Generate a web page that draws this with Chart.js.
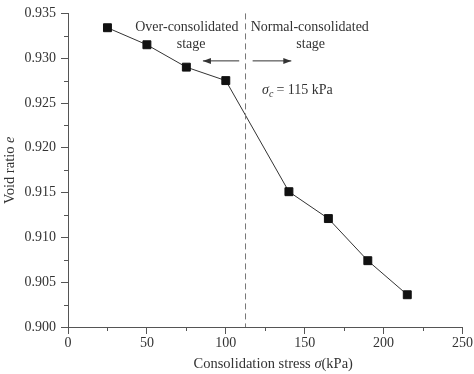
<!DOCTYPE html>
<html lang="en">
<head>
<meta charset="UTF-8">
<title>Void ratio vs consolidation stress</title>
<script src="https://cdn.jsdelivr.net/npm/chart.js"></script>
<style>
  html, body { margin: 0; padding: 0; background: #fff; }
  #wrap { width: 474px; height: 374px; position: relative; }
</style>
</head>
<body>
<div id="wrap"><canvas id="chart"></canvas></div>
<script>
// data
const stress = [25, 50, 75, 100, 140, 165, 190, 215];
const voidRatio = [0.9334, 0.9315, 0.9290, 0.9275, 0.9151, 0.9121, 0.9074, 0.9036];
const xTicks = [0, 50, 100, 150, 200, 250];
const yTicks = [0.900, 0.905, 0.910, 0.915, 0.920, 0.925, 0.930, 0.935];
const divideAt = 112.5;   // dashed line position
const sigmaC = 115;

const FONT = "'Liberation Serif', 'DejaVu Serif', serif";
const INK = '#333';
const AXIS = '#555';

// minor ticks, annotations, axis titles
const extras = {
  id: 'extras',
  afterDraw(chart) {
    const { ctx, chartArea: a, scales: { x, y } } = chart;
    ctx.save();
    // minor ticks
    ctx.strokeStyle = AXIS;
    ctx.lineWidth = 1;
    for (let i = 0; i < xTicks.length - 1; i++) {
      const px = Math.round(x.getPixelForValue((xTicks[i] + xTicks[i + 1]) / 2)) + 0.5;
      ctx.beginPath(); ctx.moveTo(px, a.bottom); ctx.lineTo(px, a.bottom + 4); ctx.stroke();
    }
    for (let i = 0; i < yTicks.length - 1; i++) {
      const py = Math.round(y.getPixelForValue((yTicks[i] + yTicks[i + 1]) / 2)) + 0.5;
      ctx.beginPath(); ctx.moveTo(a.left, py); ctx.lineTo(a.left - 4, py); ctx.stroke();
    }

    // dashed divider
    const dx = x.getPixelForValue(divideAt);
    ctx.strokeStyle = '#777';
    ctx.setLineDash([6, 4]);
    ctx.beginPath(); ctx.moveTo(dx, a.top); ctx.lineTo(dx, a.bottom); ctx.stroke();
    ctx.setLineDash([]);

    // labels
    ctx.fillStyle = INK;
    ctx.font = '14px ' + FONT;
    ctx.textBaseline = 'middle';
    ctx.textAlign = 'center';
    const ty1 = y.getPixelForValue(0.9335);
    const ty2 = y.getPixelForValue(0.9316);
    ctx.fillText('Over-consolidated', x.getPixelForValue(75.3), ty1);
    ctx.fillText('stage', x.getPixelForValue(78), ty2);
    ctx.fillText('Normal-consolidated', x.getPixelForValue(153.2), ty1);
    ctx.fillText('stage', x.getPixelForValue(153.8), ty2);

    // arrows
    const ay = y.getPixelForValue(0.9297);
    const arrow = (x0, x1) => {
      ctx.strokeStyle = INK;
      ctx.beginPath(); ctx.moveTo(x0, ay); ctx.lineTo(x1, ay); ctx.stroke();
      const d = x1 > x0 ? 1 : -1;
      ctx.beginPath();
      ctx.moveTo(x1, ay);
      ctx.lineTo(x1 - d * 8, ay - 3);
      ctx.lineTo(x1 - d * 8, ay + 3);
      ctx.closePath(); ctx.fill();
    };
    arrow(x.getPixelForValue(108.5), x.getPixelForValue(85.5));
    arrow(x.getPixelForValue(117), x.getPixelForValue(141.5));

    // sigma_c label
    const sy = y.getPixelForValue(0.9264);
    let sx = x.getPixelForValue(123);
    ctx.textAlign = 'left';
    ctx.font = 'italic 14px ' + FONT;
    ctx.fillText('σ', sx, sy);
    sx += ctx.measureText('σ').width;
    ctx.font = 'italic 10px ' + FONT;
    ctx.fillText('c', sx, sy + 4);
    sx += ctx.measureText('c').width + 3;
    ctx.font = '14px ' + FONT;
    ctx.fillText('= ' + sigmaC + ' kPa', sx, sy);

    // x axis title
    const TF = '14.5px ' + FONT, TFI = 'italic 14.5px ' + FONT;
    const xt1 = 'Consolidation stress ', xt2 = 'σ', xt3 = '(kPa)';
    ctx.font = TF;
    const w1 = ctx.measureText(xt1).width, w3 = ctx.measureText(xt3).width;
    ctx.font = TFI;
    const w2 = ctx.measureText(xt2).width;
    let tx = (a.left + a.right) / 2 + 8 - (w1 + w2 + w3) / 2;
    const tyb = a.bottom + 37;
    ctx.font = TF; ctx.fillText(xt1, tx, tyb); tx += w1;
    ctx.font = TFI; ctx.fillText(xt2, tx, tyb); tx += w2;
    ctx.font = TF; ctx.fillText(xt3, tx, tyb);

    // y axis title
    ctx.translate(10, (a.top + a.bottom) / 2);
    ctx.rotate(-Math.PI / 2);
    const yt1 = 'Void ratio ', yt2 = 'e';
    ctx.font = TF;
    const v1 = ctx.measureText(yt1).width;
    ctx.font = TFI;
    const v2 = ctx.measureText(yt2).width;
    let vx = -(v1 + v2) / 2;
    ctx.font = TF; ctx.fillText(yt1, vx, 0); vx += v1;
    ctx.font = TFI; ctx.fillText(yt2, vx, 0);
    ctx.restore();
  }
};

new Chart(document.getElementById('chart'), {
  type: 'scatter',
  data: {
    datasets: [{
      data: stress.map((s, i) => ({ x: s, y: voidRatio[i] })),
      showLine: true,
      borderColor: '#333',
      borderWidth: 1,
      pointStyle: 'rect',
      pointRadius: 5.6,
      pointHoverRadius: 5.6,
      pointBackgroundColor: '#111',
      pointBorderColor: '#111',
      pointBorderWidth: 1
    }]
  },
  options: {
    responsive: true,
    maintainAspectRatio: false,
    animation: false,
    layout: { padding: { top: 6, right: 11, left: 0, bottom: 0 } },
    plugins: { legend: { display: false }, tooltip: { enabled: false } },
    scales: {
      x: {
        type: 'linear',
        min: 0, max: 250,
        afterBuildTicks: s => { s.ticks = xTicks.map(v => ({ value: v })); },
        afterFit: s => { s.height = 47; },
        grid: { drawOnChartArea: false, tickLength: 7, tickColor: AXIS },
        border: { color: AXIS, width: 1 },
        ticks: { color: INK, font: { family: FONT, size: 14 }, padding: 1, maxRotation: 0 }
      },
      y: {
        type: 'linear',
        min: 0.900, max: 0.935,
        afterBuildTicks: s => { s.ticks = yTicks.map(v => ({ value: v })); },
        afterFit: s => { s.width = 68; },
        grid: { drawOnChartArea: false, tickLength: 7, tickColor: AXIS },
        border: { color: AXIS, width: 1 },
        ticks: {
          color: INK, font: { family: FONT, size: 14 }, padding: 5,
          callback: v => v.toFixed(3)
        }
      }
    }
  },
  plugins: [extras]
});
</script>
</body>
</html>
